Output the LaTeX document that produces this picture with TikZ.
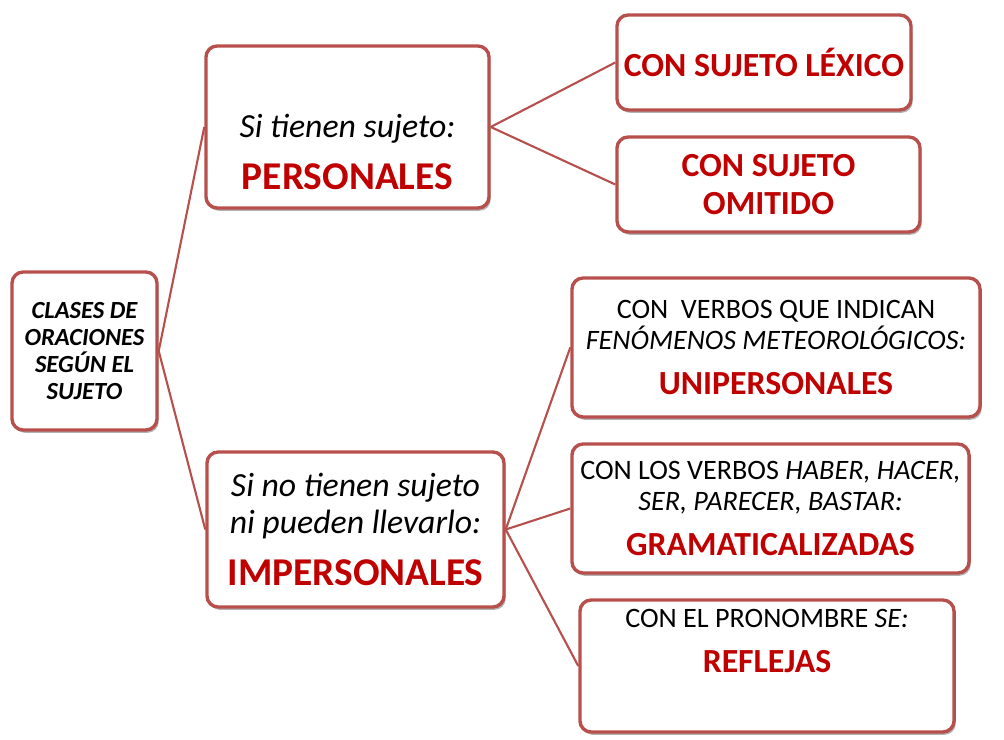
\documentclass[tikz,border=0pt]{standalone}
\usepackage{fontspec}
\setmainfont{Carlito}
\usetikzlibrary{shadows, positioning}
\definecolor{borde}{RGB}{183,80,76}
\definecolor{rojotexto}{RGB}{192,0,0}
\newcommand{\rojo}[1]{{\fontsize{24}{28}\selectfont\bfseries\upshape\color{rojotexto}#1}}
\newcommand{\rojogrande}[1]{{\fontsize{28}{33}\selectfont\bfseries\upshape\color{rojotexto}#1}}
\tikzset{
  cajon/.style={rectangle, rounded corners=8pt, draw=borde, line width=2.4pt, fill=white, align=center, inner sep=2pt,
    drop shadow={shadow xshift=1.2pt, shadow yshift=-2pt, opacity=.3, fill=black}},
  rama/.style={draw=borde, line width=1.5pt},
  normal/.style={align=center, font=\fontsize{20}{22}\selectfont},
  cursiva/.style={align=center, font=\fontsize{24}{26.3}\selectfont\itshape},
  rojas/.style={align=center, text=rojotexto, font=\fontsize{24}{27}\selectfont\bfseries}
}
\begin{document}
\begin{tikzpicture}[x=0.025cm, y=-0.025cm]
\useasboundingbox (0,0) rectangle (1004,740);

% raiz
\node[cajon, minimum width=3.625cm, minimum height=3.95cm, font=\fontsize{17.5}{19.2}\selectfont\bfseries\itshape] (raiz) at (84.5,351) {CLASES DE\\ORACIONES\\SEGÚN EL\\SUJETO};

% primer nivel
\node[cajon, minimum width=7.075cm, minimum height=4.05cm] (personales) at (347.5,127) {};
\node[cursiva] (personalestxt) at ([yshift=-0.625cm]personales.center) {Si tienen sujeto:\\[11pt]\rojogrande{PERSONALES}};
\node[cajon, cursiva, minimum width=7.425cm, minimum height=3.875cm] (impersonales) at (355.5,529.5) {Si no tienen sujeto\\ni pueden llevarlo:\\[11pt]\rojogrande{IMPERSONALES}};

% personales
\node[cajon, rojas, minimum width=7.35cm, minimum height=2.375cm] (lexico) at (764,62.5) {CON SUJETO LÉXICO};
\node[cajon, rojas, minimum width=7.575cm, minimum height=2.375cm] (omitido) at (768.5,184.5) {CON SUJETO\\OMITIDO};

% impersonales
\node[cajon, normal, minimum width=10.2cm, minimum height=3.475cm] (unipersonales) at (776,347.5) {CON~ VERBOS QUE INDICAN\\\textit{FENÓMENOS METEOROLÓGICOS:}\\[10pt]\rojo{UNIPERSONALES}};
\node[cajon, normal, minimum width=9.925cm, minimum height=3.225cm] (gramaticalizadas) at (770.5,508.5) {CON LOS VERBOS \textit{HABER, HACER,}\\\textit{SER, PARECER, BASTAR:}\\[10pt]\rojo{GRAMATICALIZADAS}};
\node[cajon, minimum width=9.35cm, minimum height=3.3cm] (reflejas) at (767,666) {};
\node[normal] (reflejastxt) at ([yshift=0.625cm]reflejas.center) {CON EL PRONOMBRE \textit{SE:}\\[10pt]\rojo{REFLEJAS}};

% ramas
\draw[rama] (raiz.east) -- (personales.west);
\draw[rama] (raiz.east) -- (impersonales.west);
\draw[rama] (personales.east) -- (lexico.west);
\draw[rama] (personales.east) -- (omitido.west);
\draw[rama] (impersonales.east) -- (unipersonales.west);
\draw[rama] (impersonales.east) -- (gramaticalizadas.west);
\draw[rama] (impersonales.east) -- (reflejas.west);
\end{tikzpicture}
\end{document}
